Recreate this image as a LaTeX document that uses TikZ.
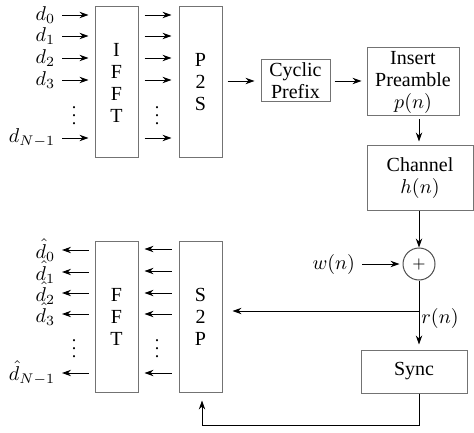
\documentclass[tikz,border=0pt]{standalone}
\usepackage{fontspec}
\setmainfont{Liberation Serif}
\usetikzlibrary{arrows.meta}
\begin{document}
\begin{tikzpicture}[x=0.5pt,y=-0.5pt,
  font=\fontsize{10}{11}\selectfont,
  blk/.style={draw=black!55, line width=0.5pt, inner sep=0pt, align=center},
  tall/.style={blk, minimum width=21.5pt, minimum height=75.5pt},
  arr/.style={-{Stealth[length=4.5pt,width=3.2pt]}, line width=0.45pt},
  lab/.style={inner sep=3.3pt},
  vdot/.style={inner sep=0pt, font=\fontsize{9}{9}\selectfont}]
\useasboundingbox (0,0) rectangle (474,432);

% transmitter
\node[tall] (ifft) at (116.5,82.5) {I\\F\\F\\T};
\node[tall] (p2s) at (200.5,82.5) {P\\2\\S};
\node[blk, minimum width=34.5pt, minimum height=21pt] (cp) at (295.5,81) {Cyclic\\Prefix};
\node[blk, minimum width=46pt, minimum height=34pt] (ins) at (413,82) {Insert\\Preamble\\$p(n)$};
\node[blk, minimum width=53pt, minimum height=32pt] (ch) at (420,178) {Channel\\$h(n)$};
\node[draw=black!70, circle, line width=0.5pt, minimum size=16pt, inner sep=0pt, font=\fontsize{8}{8}\selectfont] (sum) at (419,264) {$+$};
\node[lab, anchor=east] (w) at (362,264) {$w(n)$};
\node[blk, minimum width=53pt, minimum height=21.5pt] (sync) at (414,371.5) {Sync};

% receiver
\node[tall] (fft) at (116.5,316.5) {F\\F\\T};
\node[tall] (s2p) at (200.5,316.5) {S\\2\\P};

% input labels
\foreach \i/\y/\t in {0/15/d_0, 1/36/d_1, 2/58/d_2, 3/80/d_3, N/138/d_{N-1}} {
  \node[lab, anchor=east] (in\i) at (62,\y) {$\t$};
  \draw[arr, shorten >=3pt] (in\i) -- (in\i -| ifft.west);
}
\node[vdot] (dotsA) at (74,110) {$\vdots$};
\foreach \y in {15,36,58,80,138} {
  \draw[arr, shorten <=3pt, shorten >=3.5pt] (ifft.east |- 0,\y) -- (p2s.west |- 0,\y);
}
\node[vdot] (dotsB) at (157,110) {$\vdots$};

% output labels
\foreach \i/\y/\t in {0/250/\hat d_0, 1/272/\hat d_1, 2/293/\hat d_2, 3/314/\hat d_3, N/373/\hat d_{N-1}} {
  \node[lab, anchor=east] (out\i) at (62,\y) {$\t$};
  \draw[arr, shorten <=3pt] (out\i -| fft.west) -- (out\i);
}
\node[vdot] (dotsC) at (74,343) {$\vdots$};
\foreach \y in {249,271,293,314,373} {
  \draw[arr, shorten <=3.5pt, shorten >=3pt] (s2p.west |- 0,\y) -- (fft.east |- 0,\y);
}
\node[vdot] (dotsD) at (157,343) {$\vdots$};

% chain
\draw[arr, shorten <=2.5pt, shorten >=3pt] (p2s.east |- cp) -- (cp.west);
\draw[arr, shorten <=2pt, shorten >=2.5pt] (cp.east) -- (cp.east -| ins.west);
\draw[arr, shorten <=1.5pt, shorten >=2pt] (ins.south -| sum) -- (ch.north -| sum);
\draw[arr] (ch.south -| sum) -- (sum.north);
\draw[arr, shorten >=1.5pt] (w) -- (sum.west);
\coordinate (jn) at (419,311);
\draw[arr, shorten >=2.5pt] (sum.south) -- (sum |- sync.north);
\draw[arr, shorten >=5pt] (jn) -- (s2p.east |- jn);
\node[anchor=west, inner sep=1pt] (rn) at (419,318) {$r(n)$};
\coordinate (fb) at (419,425);
\draw[arr, shorten >=4pt] (sync.south -| jn) -- (fb) -- (fb -| 202,0) -- (202,0 |- s2p.south);
\end{tikzpicture}
\end{document}
